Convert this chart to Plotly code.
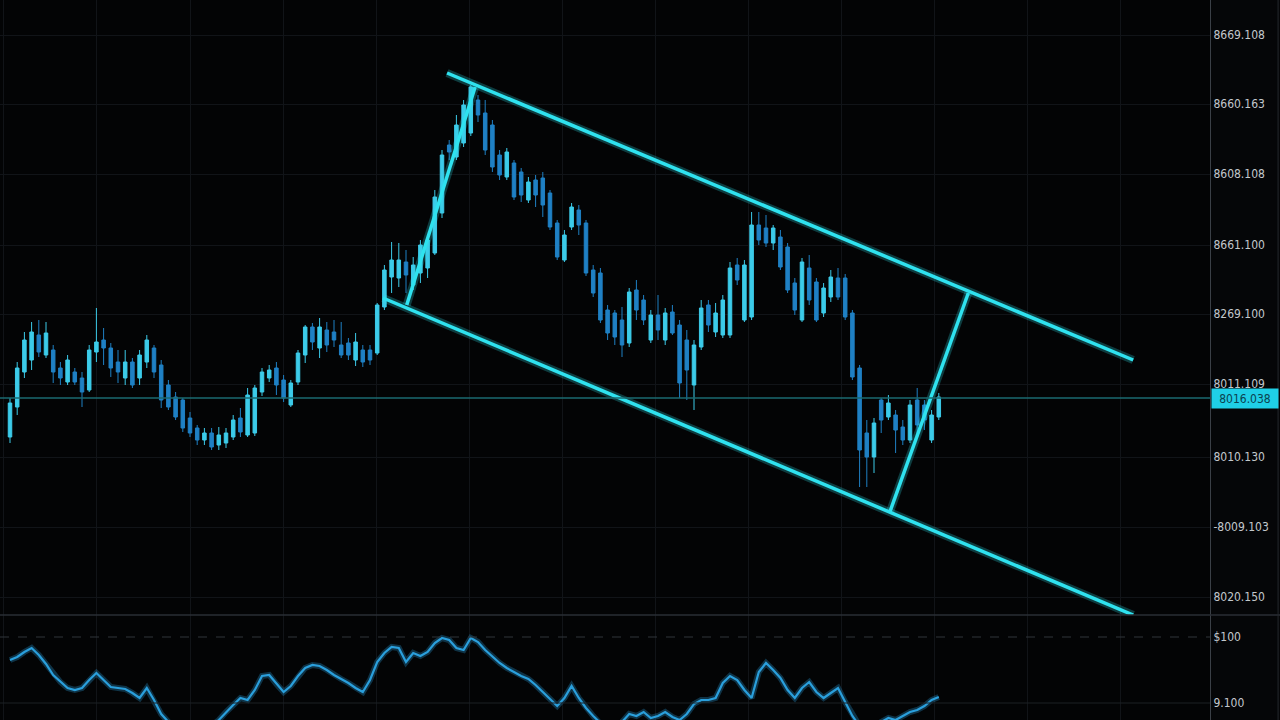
import plotly.graph_objects as go

# ---------------- data ----------------
idx = list(range(130))

open_ = [8656.3, 8659.3, 8662.8, 8664.0, 8666.5, 8664.5, 8665.0, 8663.2, 8661.8, 8662.8,
         8662.2, 8661.0, 8664.8, 8666.0, 8665.2, 8663.8, 8662.2, 8663.8, 8662.2, 8663.8,
         8665.2, 8663.5, 8661.5, 8660.3, 8660.0, 8658.2, 8657.2, 8656.0, 8656.7, 8655.5,
         8655.7, 8656.3, 8658.2, 8656.5, 8656.7, 8660.8, 8662.2, 8663.2, 8662.0, 8659.5,
         8661.8, 8664.5, 8667.3, 8665.2, 8667.0, 8666.8, 8665.5, 8665.7, 8664.0, 8665.0,
         8665.0, 8664.7, 8669.3, 8672.3, 8672.2, 8673.8, 8671.5, 8672.7, 8673.2, 8674.7,
         8678.7, 8685.5, 8684.3, 8685.7, 8686.7, 8690.0, 8688.7, 8687.5, 8684.5, 8682.3,
         8683.7, 8682.8, 8680.0, 8682.0, 8682.2, 8680.7, 8677.7, 8674.0, 8677.3, 8679.0,
         8677.7, 8673.0, 8672.7, 8669.0, 8668.7, 8668.0, 8665.7, 8671.0, 8670.0, 8666.0,
         8668.5, 8666.0, 8668.8, 8667.5, 8666.0, 8661.5, 8665.3, 8669.5, 8666.8, 8666.5,
         8666.5, 8673.5, 8668.0, 8668.3, 8677.5, 8677.2, 8675.7, 8676.3, 8675.3, 8671.7,
         8668.0, 8673.2, 8671.8, 8668.7, 8670.3, 8672.2, 8672.2, 8668.7, 8663.2, 8656.7,
         8654.3, 8660.0, 8658.3, 8658.5, 8657.3, 8656.0, 8660.0, 8659.5, 8656.0, 8658.3]

close = [8659.7, 8663.2, 8666.0, 8666.8, 8664.8, 8666.7, 8662.8, 8662.2, 8664.0, 8661.8,
         8660.8, 8665.0, 8665.8, 8665.2, 8663.2, 8662.8, 8663.8, 8661.5, 8664.5, 8666.0,
         8662.8, 8660.0, 8659.3, 8658.3, 8657.2, 8656.7, 8656.0, 8656.7, 8655.3, 8656.5,
         8656.7, 8658.0, 8656.8, 8660.5, 8661.2, 8662.8, 8663.0, 8661.5, 8660.2, 8661.7,
         8664.7, 8667.3, 8665.8, 8667.3, 8665.5, 8666.0, 8664.5, 8664.5, 8665.8, 8663.8,
         8664.0, 8669.5, 8673.0, 8674.0, 8674.0, 8672.5, 8673.5, 8675.5, 8676.0, 8680.3,
         8684.5, 8684.8, 8687.5, 8689.5, 8691.3, 8688.5, 8685.0, 8683.3, 8682.5, 8684.8,
         8680.3, 8680.5, 8681.8, 8680.5, 8679.5, 8677.3, 8674.3, 8676.5, 8679.3, 8677.5,
         8672.7, 8670.7, 8668.0, 8666.7, 8666.3, 8665.5, 8670.8, 8669.0, 8668.0, 8668.5,
         8667.0, 8668.7, 8666.7, 8661.7, 8663.0, 8665.5, 8669.2, 8667.5, 8668.7, 8670.0,
         8673.2, 8672.0, 8673.5, 8677.5, 8676.0, 8675.7, 8677.2, 8673.3, 8671.0, 8669.0,
         8673.8, 8670.0, 8668.0, 8671.2, 8672.3, 8670.3, 8668.3, 8662.3, 8655.0, 8654.3,
         8657.7, 8658.0, 8659.7, 8657.0, 8656.0, 8659.5, 8657.5, 8658.0, 8658.5, 8660.3]

high = [8660.2, 8663.8, 8666.8, 8667.8, 8668.0, 8667.8, 8665.5, 8663.8, 8664.5, 8663.2,
        8662.8, 8665.5, 8669.2, 8667.2, 8665.7, 8665.0, 8665.0, 8664.2, 8665.0, 8666.5,
        8665.5, 8664.0, 8662.0, 8660.8, 8660.2, 8658.8, 8657.5, 8657.2, 8657.2, 8657.3,
        8657.2, 8658.5, 8659.2, 8661.2, 8661.5, 8663.2, 8663.5, 8663.8, 8662.5, 8662.0,
        8665.0, 8667.5, 8667.7, 8668.2, 8667.8, 8668.0, 8667.8, 8666.2, 8666.7, 8665.5,
        8665.5, 8669.7, 8673.5, 8675.8, 8675.7, 8675.0, 8674.3, 8676.0, 8676.5, 8681.0,
        8685.0, 8686.0, 8688.5, 8690.0, 8691.5, 8690.5, 8690.0, 8688.0, 8685.0, 8685.2,
        8684.0, 8683.2, 8682.3, 8682.5, 8682.8, 8681.0, 8678.0, 8677.0, 8679.7, 8679.5,
        8678.0, 8673.5, 8673.2, 8669.5, 8669.0, 8669.3, 8671.2, 8672.0, 8670.5, 8669.0,
        8670.5, 8669.2, 8669.5, 8668.0, 8667.0, 8666.0, 8670.0, 8670.0, 8669.7, 8670.5,
        8673.8, 8674.2, 8674.0, 8678.8, 8678.8, 8678.5, 8677.5, 8677.0, 8675.7, 8672.2,
        8674.2, 8674.5, 8672.2, 8671.7, 8673.0, 8673.2, 8672.6, 8669.0, 8663.5, 8658.0,
        8658.2, 8660.2, 8660.5, 8659.0, 8658.0, 8660.0, 8661.2, 8660.0, 8659.0, 8660.7]

low = [8655.7, 8658.5, 8662.2, 8663.0, 8664.3, 8664.2, 8661.7, 8661.5, 8661.5, 8661.5,
       8659.3, 8660.8, 8663.8, 8663.5, 8662.3, 8661.7, 8661.5, 8661.2, 8661.5, 8663.2,
       8662.2, 8659.2, 8659.0, 8658.0, 8656.8, 8656.3, 8655.5, 8655.5, 8655.0, 8655.0,
       8655.2, 8656.0, 8656.3, 8656.3, 8656.4, 8660.4, 8661.8, 8660.5, 8659.8, 8659.3,
       8661.5, 8663.7, 8665.0, 8664.2, 8664.8, 8665.3, 8664.2, 8664.0, 8663.4, 8663.3,
       8663.5, 8664.5, 8669.0, 8670.7, 8671.3, 8670.7, 8671.0, 8671.7, 8672.2, 8674.5,
       8678.2, 8684.0, 8684.0, 8685.3, 8686.4, 8687.8, 8684.5, 8682.8, 8682.0, 8682.0,
       8680.0, 8679.8, 8679.7, 8679.3, 8678.3, 8677.0, 8674.0, 8673.8, 8677.0, 8676.5,
       8672.4, 8670.3, 8667.7, 8666.0, 8665.5, 8664.3, 8665.3, 8668.0, 8667.5, 8665.7,
       8666.0, 8665.5, 8666.5, 8660.2, 8660.0, 8659.0, 8665.0, 8666.8, 8666.3, 8666.2,
       8666.2, 8671.5, 8667.8, 8668.0, 8675.5, 8675.3, 8675.0, 8673.0, 8670.7, 8668.5,
       8667.8, 8669.5, 8667.8, 8668.3, 8669.8, 8670.0, 8668.0, 8662.0, 8651.3, 8651.3,
       8652.7, 8656.7, 8658.0, 8654.7, 8655.5, 8655.7, 8656.3, 8657.0, 8655.7, 8658.0]

oscillator = [56.0, 58.4, 62.4, 65.6, 60.0, 52.8, 44.0, 38.4, 33.6, 32.0,
              33.6, 40.0, 45.6, 40.0, 34.4, 33.6, 32.8, 29.6, 25.6, 33.6,
              24.0, 12.8, 6.4, 1.6, -1.6, -4.0, -2.4, 0.0, 3.2, 8.0,
              14.4, 20.0, 25.6, 24.0, 32.0, 43.2, 44.0, 36.8, 30.4, 35.2,
              43.2, 49.6, 52.0, 51.2, 48.0, 44.0, 40.8, 37.6, 33.6, 30.4,
              40.0, 54.4, 61.6, 66.4, 65.6, 54.4, 61.6, 59.2, 62.4, 69.6,
              73.6, 72.0, 65.6, 64.0, 73.6, 70.4, 64.0, 58.4, 53.6, 49.6,
              46.4, 43.2, 40.8, 36.0, 30.4, 24.8, 19.2, 25.6, 35.2, 25.6,
              17.6, 11.2, 4.8, 0.0, 1.6, 6.4, 12.8, 11.2, 14.4, 9.6,
              11.2, 14.4, 10.4, 8.0, 12.8, 20.8, 24.0, 24.0, 25.6, 37.6,
              43.2, 40.0, 32.0, 25.6, 46.4, 53.6, 48.0, 41.6, 32.0, 25.6,
              33.6, 38.4, 30.4, 25.6, 29.6, 33.6, 22.4, 11.2, 3.2, 0.0,
              1.6, 6.4, 9.6, 8.0, 11.2, 14.4, 16.0, 19.2, 24.0, 26.4]

# channel drawing (bar index, price)
upper_x = [60.7, 156.0]
upper_y = [8692.7, 8664.0]
lower_x = [51.8, 156.0]
lower_y = [8670.2, 8638.5]
left_leg_x = [55.1, 64.6]
left_leg_y = [8669.5, 8691.3]
right_leg_x = [122.2, 133.1]
right_leg_y = [8648.8, 8670.7]

last_price = 8660.2
last_price_text = "8016.038"

price_ticks = [8696.5, 8689.6, 8682.6, 8675.5, 8668.6, 8661.6, 8654.3, 8647.3, 8640.3]
price_tick_text = ["8669.108", "8660.163", "8608.108", "8661.100", "8269.100",
                   "8011.109", "8010.130", "-8009.103", "8020.150"]
osc_ticks = [74.4, 21.6]
osc_tick_text = ["$100", "9.100"]

# ---------------- style ----------------
UP = "#3ccbe9"
DN = "#1f80c4"
CHAN = "#2fe2ef"
OSC = "#2a9fdc"
GRID = "#111418"
AXLINE = "#3a3f46"
TXT = "#c3c8cd"
FONT = "Liberation Sans Narrow, DejaVu Sans Condensed, Roboto, sans-serif"

XD = 1210 / 1280
SPLIT = 105 / 720

fig = go.Figure()

fig.add_trace(go.Candlestick(
    x=idx, open=open_, high=high, low=low, close=close,
    increasing=dict(line=dict(color=UP, width=1), fillcolor=UP),
    decreasing=dict(line=dict(color=DN, width=1), fillcolor=DN),
    whiskerwidth=0, showlegend=False, hoverinfo="skip",
    xaxis="x", yaxis="y"))

for xs, ys in [(upper_x, upper_y), (lower_x, lower_y),
               (left_leg_x, left_leg_y), (right_leg_x, right_leg_y)]:
    fig.add_trace(go.Scatter(x=xs, y=ys, mode="lines",
                             line=dict(color="rgba(47,226,239,0.25)", width=8),
                             showlegend=False, hoverinfo="skip", xaxis="x", yaxis="y"))
    fig.add_trace(go.Scatter(x=xs, y=ys, mode="lines",
                             line=dict(color=CHAN, width=3.5),
                             showlegend=False, hoverinfo="skip", xaxis="x", yaxis="y"))

fig.add_trace(go.Scatter(x=idx, y=oscillator, mode="lines",
                         line=dict(color="rgba(42,159,220,0.3)", width=6),
                         showlegend=False, hoverinfo="skip", xaxis="x2", yaxis="y2"))
fig.add_trace(go.Scatter(x=idx, y=oscillator, mode="lines",
                         line=dict(color=OSC, width=2.2),
                         showlegend=False, hoverinfo="skip", xaxis="x2", yaxis="y2"))

xcommon = dict(domain=[0, XD], range=[-1.389, 166.667], showgrid=True, gridcolor=GRID,
               gridwidth=1, tickmode="linear", tick0=12.08, dtick=12.92,
               showticklabels=False, zeroline=False, showline=False, ticks="",
               fixedrange=True)

fig.update_layout(
    width=1280, height=720,
    margin=dict(l=0, r=0, t=0, b=0),
    paper_bgcolor="#050608", plot_bgcolor="#030405",
    font=dict(family=FONT, color=TXT, size=11),
    showlegend=False,
    xaxis=dict(**xcommon, anchor="y", rangeslider=dict(visible=False)),
    xaxis2=dict(**xcommon, anchor="y2", matches="x"),
    yaxis=dict(domain=[SPLIT, 1], side="right", anchor="x", range=[8638.5, 8700],
               tickmode="array", tickvals=price_ticks, ticktext=price_tick_text,
               showgrid=True, gridcolor=GRID, zeroline=False, showline=True,
               linecolor=AXLINE, linewidth=1, ticks="", automargin=False,
               tickfont=dict(family=FONT, size=12, color=TXT)),
    yaxis2=dict(domain=[0, SPLIT], side="right", anchor="x2", range=[8, 92],
                tickmode="array", tickvals=osc_ticks, ticktext=osc_tick_text,
                showgrid=False, zeroline=False, showline=True, linecolor=AXLINE,
                linewidth=1, ticks="", automargin=False,
                tickfont=dict(family=FONT, size=12, color=TXT)),
)

shapes = [
    # pane separator
    dict(type="line", xref="paper", yref="paper", x0=0, x1=1, y0=SPLIT, y1=SPLIT,
         line=dict(color="#2a2e34", width=1.5)),
    # right border
    dict(type="line", xref="paper", yref="paper", x0=0.9985, x1=0.9985, y0=0, y1=1,
         line=dict(color="#25292e", width=1)),
    # last price line
    dict(type="line", xref="paper", yref="y", x0=0, x1=XD, y0=last_price, y1=last_price,
         line=dict(color="#1b6a70", width=1.5)),
    # oscillator guides
    dict(type="line", xref="paper", yref="y2", x0=0, x1=XD, y0=osc_ticks[0], y1=osc_ticks[0],
         line=dict(color="#30353b", width=1, dash="dash")),
    dict(type="line", xref="paper", yref="y2", x0=0, x1=XD, y0=osc_ticks[1], y1=osc_ticks[1],
         line=dict(color="#1c2025", width=1)),
]
fig.update_layout(shapes=shapes)

fig.add_annotation(x=XD, xref="paper", y=last_price, yref="y", xanchor="left",
                   yanchor="middle", xshift=1, text=last_price_text, showarrow=False,
                   bgcolor="#1fcfe6", font=dict(family=FONT, size=12, color="#0b4350"),
                   width=64, height=17, borderpad=1)

fig.write_html(
    "out.html",
    config={"displayModeBar": False},
    post_script="document.body.style.margin='0';document.body.style.overflow='hidden';"
                "document.documentElement.style.background='#050608';",
)
